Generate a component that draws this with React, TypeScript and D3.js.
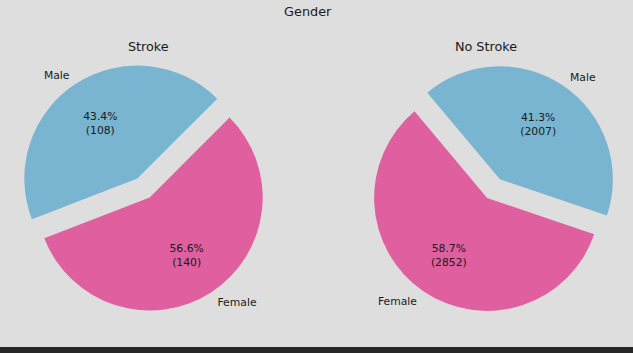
import React from "react";
import * as d3 from "d3";

const categories = ["Male", "Female"];
const strokeValues = [108, 141];
const noStrokeValues = [2007, 2853];
const chartTitles = ["Stroke", "No Stroke"];
const suptitle = "Gender";

const W = 633;
const H = 353;
const BG = "#dedede";
const COLORS = ["#79b5d0", "#df5f9f"];
const TEXT = "#1a1a1a";
const FONT = "'DejaVu Sans', sans-serif";

type PieSpec = { cx: number; cy: number; r: number; startDeg: number; values: number[]; title: string; titleX: number };

function Pie({ spec }: { spec: PieSpec }) {
  const { cx, cy, r, startDeg, values } = spec;
  const total = d3.sum(values);
  // matplotlib: start angle measured ccw from 3 o'clock; d3: clockwise from 12 o'clock
  const s = ((90 - startDeg) * Math.PI) / 180;
  const pie = d3.pie<number>().sort(null).value((d) => d).startAngle(s).endAngle(s - 2 * Math.PI);
  const arcs = pie(values);
  const arcGen = d3.arc<d3.PieArcDatum<number>>().innerRadius(0).outerRadius(r);
  return (
    <g>
      {arcs.map((a, i) => {
        const mid = (a.startAngle + a.endAngle) / 2;
        const ux = Math.sin(mid);
        const uy = -Math.cos(mid);
        const ox = cx + 0.1 * r * ux;
        const oy = cy + 0.1 * r * uy;
        const lx = ox + 1.1 * r * ux;
        const ly = oy + 1.1 * r * uy;
        const px = ox + 0.6 * r * ux;
        const py = oy + 0.6 * r * uy;
        // matplotlib computes fractions in float32; the count label truncates
        const frac = Math.fround(Math.fround(values[i]) / Math.fround(total));
        const pct = 100 * frac;
        const cnt = Math.floor((pct * total) / 100);
        return (
          <g key={i}>
            <path d={arcGen(a) || ""} transform={`translate(${ox},${oy})`} fill={COLORS[i]} />
            <text x={lx} y={ly + 1} textAnchor={ux >= 0 ? "start" : "end"} dominantBaseline="central" fontSize={10.8} fill={TEXT}>
              {categories[i]}
            </text>
            <text x={px} y={py} textAnchor="middle" fontSize={10.8} fill={TEXT}>
              <tspan x={px} y={py - 2}>{pct.toFixed(1) + "%"}</tspan>
              <tspan x={px} y={py + 12}>{"(" + cnt + ")"}</tspan>
            </text>
          </g>
        );
      })}
      <text x={spec.titleX} y={51} textAnchor="middle" fontSize={12.8} fill={TEXT}>
        {spec.title}
      </text>
    </g>
  );
}

export default function App() {
  const specs: PieSpec[] = [
    { cx: 143.5, cy: 188, r: 113, startDeg: 45, values: strokeValues, title: chartTitles[0], titleX: 148.3 },
    { cx: 493.5, cy: 188.6, r: 113, startDeg: -18.7, values: noStrokeValues, title: chartTitles[1], titleX: 486 },
  ];
  return (
    <svg width={W} height={H} style={{ position: "absolute", left: 0, top: 0, fontFamily: FONT }}>
      <rect x={0} y={0} width={W} height={H} fill={BG} />
      <text x={307.7} y={16} textAnchor="middle" fontSize={12.8} fill={TEXT}>
        {suptitle}
      </text>
      {specs.map((s, i) => (
        <Pie key={i} spec={s} />
      ))}
      <rect x={0} y={347} width={W} height={H - 347} fill="#262626" />
    </svg>
  );
}
